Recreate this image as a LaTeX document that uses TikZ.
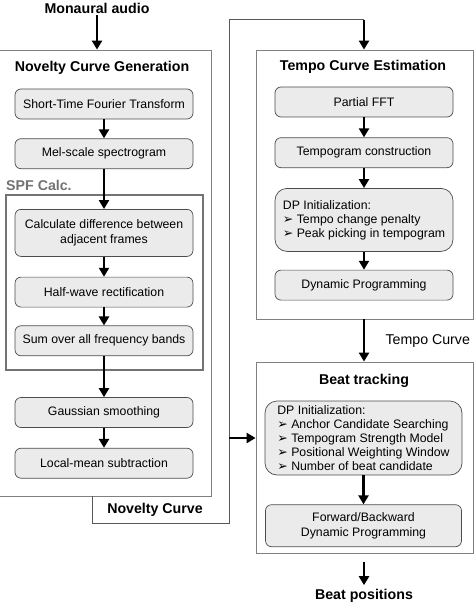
\documentclass[tikz,border=0pt]{standalone}
\usepackage{fontspec}
\setmainfont{Liberation Sans}
\newfontfamily\bulletfont{DejaVu Sans}
\usepackage{tikz}
\usetikzlibrary{positioning, arrows.meta}
\newcommand{\stagefont}{\fontsize{12.3}{14.5}\selectfont}
\newcommand{\listfont}{\fontsize{12.3}{14}\selectfont}
\newcommand{\headfont}{\fontsize{14.2}{17}\selectfont\bfseries}
\newcommand{\pick}{{\bulletfont\fontsize{12.5}{14}\selectfont ➢}\ }
\tikzstyle{stage} = [font=\stagefont, rectangle, rounded corners=6pt, minimum width=178pt, minimum height=30pt, inner sep=2pt, align=center, draw=black!70, line width=0.7pt, fill=black!8]
\tikzstyle{init} = [stage, font=\listfont, rounded corners=12pt, align=left]
\tikzstyle{group} = [rectangle, draw=black!50, line width=0.8pt, inner sep=0pt]
\tikzstyle{spf} = [rectangle, draw=black!55, line width=2.5pt, inner sep=0pt]
\tikzstyle{head} = [font=\headfont, inner sep=2pt]
\tikzstyle{link} = [draw=black!65, line width=1pt]
\tikzstyle{arrow} = [line width=2.4pt, -{Triangle[length=9pt, width=10pt]}]

\begin{document}
\begin{tikzpicture}[x=1pt, y=-1pt]
  \useasboundingbox (0,0) rectangle (474,604);
  % frames
  \node (NCG) [group, minimum width=212pt, minimum height=446pt] at (105,273) {};
  \node (SPF) [spf, minimum width=197pt, minimum height=175pt] at (104.5,282.5) {};
  \node (TCE) [group, minimum width=217pt, minimum height=269pt] at (364.5,184.5) {};
  \node (BT) [group, minimum width=217pt, minimum height=191pt] at (364.5,457.5) {};
  % titles and labels
  \node (audio) [head] at (97,8) {Monaural audio};
  \node (NCG_title) [head] at (102,68) {Novelty Curve Generation};
  \node (SPF_title) [head, anchor=west, text=black!55] at (4,185) {SPF Calc.};
  \node (TCE_title) [head] at (363,67) {Tempo Curve Estimation};
  \node (BT_title) [head] at (364,381) {Beat tracking};
  \node (nc_label) [head] at (155,510) {Novelty Curve};
  \node (tc_label) [font=\fontsize{14.2}{17}\selectfont, anchor=west] at (382,341) {Tempo Curve};
  \node (beatpos) [head, inner sep=4pt] at (364,596) {Beat positions};
  % novelty curve generation
  \node (STFT) [stage] at (104,104) {Short-Time Fourier Transform};
  \node (mel) [stage, below=19pt of STFT] {Mel-scale spectrogram};
  \node (diff) [stage, below=40pt of mel, minimum height=47pt] {Calculate difference between\\adjacent frames};
  \node (halfwave) [stage, below=20pt of diff] {Half-wave rectification};
  \node (sum) [stage, below=18pt of halfwave] {Sum over all frequency bands};
  \node (gauss) [stage, below=41pt of sum] {Gaussian smoothing};
  \node (localmean) [stage, below=20pt of gauss] {Local-mean subtraction};
  % tempo curve estimation
  \node (pfft) [stage] at (364,102) {Partial FFT};
  \node (tempogram) [stage, below=20pt of pfft] {Tempogram construction};
  \node (TDP_init) [init, below=20pt of tempogram, minimum height=63pt]
    {DP Initialization:\\\pick Tempo change penalty\\\pick Peak picking in tempogram};
  \node (TDP) [stage, below=18pt of TDP_init] {Dynamic Programming};
  % beat tracking
  \node (BDP_init) [init, minimum width=197pt, minimum height=74pt] at (363.5,438)
    {DP Initialization:\\\pick Anchor Candidate Searching\\\pick Tempogram Strength Model\\\pick Positional Weighting Window\\\pick Number of beat candidate};
  \node (FB) [stage, below=29pt of BDP_init, minimum width=196pt, minimum height=42pt] {Forward/Backward\\Dynamic Programming};
  % connectors
  \coordinate (nc_bend) at (229,523);
  \coordinate (nc_top) at (364,20);
  \draw[arrow] (audio.south) -- (audio.south |- NCG.north);
  \draw[arrow] (STFT) -- (mel);
  \draw[arrow] (mel) -- (diff);
  \draw[arrow] (diff) -- (halfwave);
  \draw[arrow] (halfwave) -- (sum);
  \draw[arrow] (sum) -- (gauss);
  \draw[arrow] (gauss) -- (localmean);
  \draw[link] ([xshift=-13pt]NCG.south) |- (nc_bend) |- (nc_top);
  \draw[arrow] (nc_top) -- (nc_top |- TCE.north);
  \draw[arrow] (nc_bend |- BDP_init) -- (BDP_init -| BT.west);
  \draw[arrow] (pfft) -- (tempogram);
  \draw[arrow] (tempogram) -- (TDP_init);
  \draw[arrow] (TDP_init) -- (TDP);
  \draw[arrow] (TCE.south -| nc_top) -- (BT.north -| nc_top);
  \draw[arrow] (BDP_init) -- (FB);
  \draw[arrow] ([yshift=-9pt]BT.south -| nc_top) -- (beatpos.north);
\end{tikzpicture}
\end{document}
